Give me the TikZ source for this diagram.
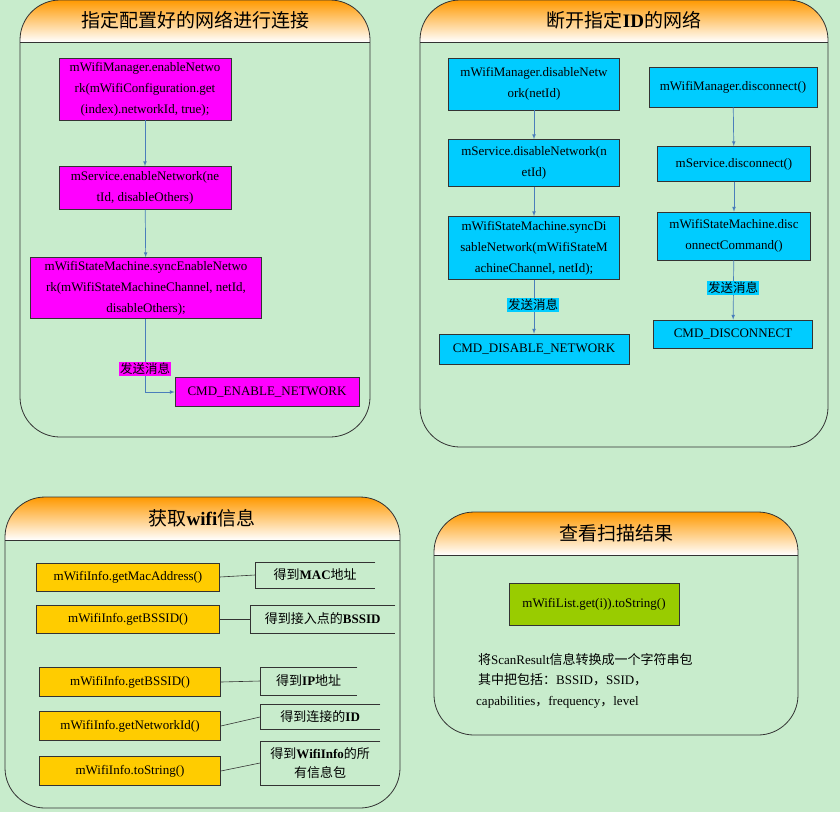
\documentclass[tikz,border=0pt]{standalone}
\usepackage{fontspec}
\setmainfont{Liberation Serif}
\newfontfamily\cjk{Noto Sans CJK SC}
\definecolor{bg}{RGB}{200,236,204}
\definecolor{cmag}{RGB}{255,0,255}
\definecolor{ccy}{RGB}{0,204,255}
\definecolor{cye}{RGB}{255,204,0}
\definecolor{cgr}{RGB}{153,204,0}
\definecolor{carr}{RGB}{74,126,187}
\definecolor{corg}{RGB}{255,153,0}
\begin{document}
\begin{tikzpicture}[x=1pt,y=-1pt,
  base/.style={draw=black!80,line width=0.6pt,align=center,inner sep=1pt,font=\fontsize{13}{21}\selectfont},
  mag/.style={base,fill=cmag},
  cyb/.style={base,fill=ccy},
  yel/.style={base,fill=cye},
  grn/.style={base,fill=cgr},
  arr/.style={draw=carr,line width=0.7pt,-latex},
  ln/.style={draw=black!80,line width=0.6pt},
  lbl/.style={inner sep=1pt,font=\cjk\fontsize{12.5}{15}\selectfont},
  note/.style={inner sep=2pt,align=center,font=\fontsize{13}{19}\selectfont,anchor=west},
  title/.style={font=\cjk\fontsize{19}{22}\selectfont}]
\fill[bg] (0,0) rectangle (840,812);
\useasboundingbox (0,0) rectangle (840,812);
\newcommand\panel[5]{%
 \begin{scope}\clip[rounded corners=40] (#1,#2) rectangle (#3,#4);
 \shade[top color=corg,bottom color=white] (#1,#2) rectangle (#3,#5);\end{scope}
 \draw[line width=0.8pt,black!80,rounded corners=40] (#1,#2) rectangle (#3,#4);
 \draw[line width=0.8pt,black!80] (#1,#5)--(#3,#5);}
\panel{20}{0}{370}{437}{42}
\panel{420}{0}{828}{447}{42}
\panel{5}{497}{400}{808}{540}
\panel{434}{512}{798}{735}{555}
\node[title] (t1) at (195,20) {指定配置好的网络进行连接};
\node[title] (t2) at (624,20) {断开指定\textbf{\rmfamily ID}的网络};
\node[title] (t3) at (202,518) {获取\textbf{\rmfamily wifi}信息};
\node[title] (t4) at (616,533) {查看扫描结果};
% panel 1
\node[mag,minimum width=172,minimum height=62] (b1) at (145,89) {mWifiManager.enableNetwo\\rk(mWifiConfiguration.get\\(index).networkId, true);};
\node[mag,minimum width=172,minimum height=43] (b2) at (145,188) {mService.enableNetwork(ne\\tId, disableOthers)};
\node[mag,minimum width=231,minimum height=61] (b3) at (146,288) {mWifiStateMachine.syncEnableNetwo\\rk(mWifiStateMachineChannel, netId,\\disableOthers);};
\node[mag,minimum width=184,minimum height=29] (b4) at (267,392) {CMD\_ENABLE\_NETWORK};
\draw[arr] (b1)--(b2);
\draw[arr] (b2)--(b3);
\draw[arr] (b3.south -| 145,0) -- (145,392) -- (b4.west);
\node[lbl,fill=cmag] (l1) at (145,369) {发送消息};
% panel 2
\node[cyb,minimum width=171,minimum height=52] (c1) at (534,84) {mWifiManager.disableNetw\\ork(netId)};
\node[cyb,minimum width=171,minimum height=47] (c2) at (534,163) {mService.disableNetwork(n\\etId)};
\node[cyb,minimum width=171,minimum height=63] (c3) at (534,248) {mWifiStateMachine.syncDi\\sableNetwork(mWifiStateM\\achineChannel, netId);};
\node[cyb,minimum width=190,minimum height=30] (c4) at (534,349) {CMD\_DISABLE\_NETWORK};
\draw[arr] (c1)--(c2);
\draw[arr] (c2)--(c3);
\draw[arr] (c3)--(c4);
\node[lbl,fill=ccy] (l2) at (533,305) {发送消息};
\node[cyb,minimum width=168,minimum height=40] (d1) at (733,87) {mWifiManager.disconnect()};
\node[cyb,minimum width=153,minimum height=35] (d2) at (734,164) {mService.disconnect()};
\node[cyb,minimum width=153,minimum height=48] (d3) at (734,236) {mWifiStateMachine.disc\\onnectCommand()};
\node[cyb,minimum width=159,minimum height=28] (d4) at (733,334) {CMD\_DISCONNECT};
\draw[arr] (d1)--(d2);
\draw[arr] (d2)--(d3);
\draw[arr] (d3)--(d4);
\node[lbl,fill=ccy] (l3) at (733,288) {发送消息};
% panel 3
\node[yel,minimum width=183,minimum height=28] (y1) at (128,577) {mWifiInfo.getMacAddress()};
\node[yel,minimum width=183,minimum height=28] (y2) at (128,619) {mWifiInfo.getBSSID()};
\node[yel,minimum width=181,minimum height=29] (y3) at (130,682) {mWifiInfo.getBSSID()};
\node[yel,minimum width=181,minimum height=29] (y4) at (130,726) {mWifiInfo.getNetworkId()};
\node[yel,minimum width=181,minimum height=29] (y5) at (130,771) {mWifiInfo.toString()};
\newcommand\callout[5]{%
 \node[note,minimum width=#3,minimum height=#4] (#1) at (#2) {#5};
 \draw[ln] (#1.north east)--(#1.north west)--(#1.south west)--(#1.south east);}
\callout{n1}{255,575}{120}{26}{\cjk 得到\textbf{\rmfamily MAC}地址}
\callout{n2}{250,619}{145}{28}{\cjk 得到接入点的\textbf{\rmfamily BSSID}}
\callout{n3}{260,681}{97}{28}{\cjk 得到\textbf{\rmfamily IP}地址}
\callout{n4}{260,717}{120}{25}{\cjk 得到连接的\textbf{\rmfamily ID}}
\callout{n5}{260,763}{120}{44}{\cjk 得到\textbf{\rmfamily WifiInfo}的所\\\cjk 有信息包}
\draw[ln] (y1.east)--(n1.west);
\draw[ln] (y2.east)--(n2.west);
\draw[ln] (y3.east)--(n3.west);
\draw[ln] (y4.east)--(n4.west);
\draw[ln] (y5.east)--(n5.west);
% panel 4
\node[grn,minimum width=170,minimum height=42] (g1) at (594,604) {mWifiList.get(i)).toString()};
\node[anchor=north west,align=left,inner sep=0pt,font=\cjk\fontsize{13}{20.5}\selectfont] (tx) at (476,653)
 {\hspace{2pt}将{\rmfamily ScanResult}信息转换成一个字符串包\\\hspace{2pt}其中把包括：{\rmfamily BSSID}，{\rmfamily SSID}，\\{\rmfamily capabilities}，{\rmfamily frequency}，{\rmfamily level}};
\end{tikzpicture}
\end{document}
